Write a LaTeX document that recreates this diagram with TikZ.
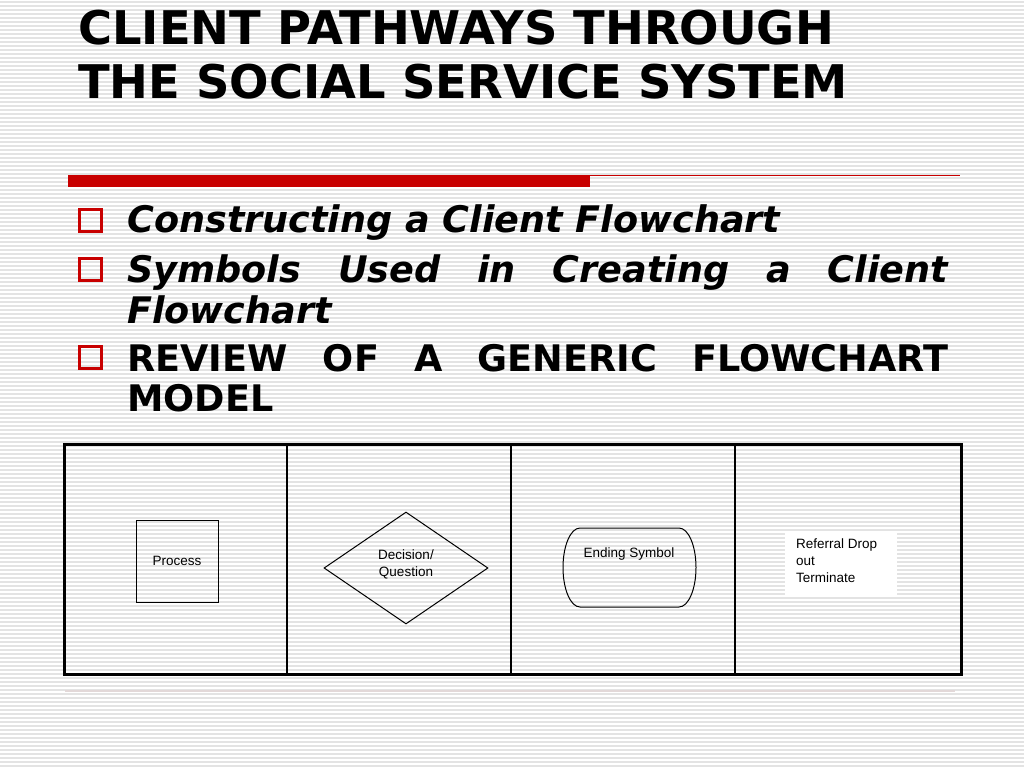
\documentclass[tikz,border=0pt]{standalone}
\usepackage{fontspec}
\setmainfont{DejaVu Sans}
\newfontfamily\arialfont{Liberation Sans}
\usetikzlibrary{shapes.geometric}
\definecolor{slidered}{HTML}{C80000}
\definecolor{stripecol}{HTML}{E3E3E3}
\definecolor{softline}{HTML}{E2D8D8}
\begin{document}
\begin{tikzpicture}[x=1pt,y=-1pt,
  titletext/.style={anchor=base west, inner sep=0pt, font=\fontsize{46.4}{50}\selectfont\bfseries},
  bullettext/.style={anchor=base west, inner sep=0pt, font=\fontsize{36.6}{40}\selectfont\bfseries},
  bulletsq/.style={draw=slidered, line width=3pt, minimum size=22pt, inner sep=0pt},
  shapeline/.style={draw=black, line width=1pt},
  smalltext/.style={font=\arialfont\fontsize{13.5}{17}\selectfont, inner sep=0pt},
]
\useasboundingbox (0,0) rectangle (1024,768);
\fill[white] (0,0) rectangle (1024,768);
\foreach \k in {0,...,191} \draw[stripecol, line width=1.3pt] (0,{4*\k+2}) -- (1024,{4*\k+2});

% title
\node[titletext] (t1) at (78,45) {CLIENT PATHWAYS THROUGH};
\node[titletext] (t2) at (78,98) {THE SOCIAL SERVICE SYSTEM};

% red rule
\fill[slidered] (68,175) rectangle (590,187);
\draw[slidered, line width=1.5pt] (590,175.5) -- (960,175.5);

% bullets
\node[bulletsq] (s1) at (90,220) {};
\node[bulletsq] (s2) at (90,269) {};
\node[bulletsq] (s3) at (90,357) {};
\node[bullettext] (b1) at (127,232) {\itshape Constructing a Client Flowchart};
\node[bullettext] (b2a) at (127,282) {\itshape\makebox[821pt][s]{Symbols Used in Creating a Client}};
\node[bullettext] (b2b) at (127,323) {\itshape Flowchart};
\node[bullettext] (b3a) at (127,371) {\makebox[821pt][s]{REVIEW OF A GENERIC FLOWCHART}};
\node[bullettext] (b3b) at (127,411) {MODEL};

% table
\node[draw=black, line width=3pt, minimum width=897pt, minimum height=230pt, anchor=north west, inner sep=0pt] (tbl) at (63,443) {};
\foreach \x in {287,511,735} \draw[black, line width=1.6pt] (\x,443) -- (\x,673);

% process
\node[shapeline, minimum size=82pt, smalltext] (proc) at (177,561) {Process};

% decision
\node[diamond, shapeline, minimum width=164pt, minimum height=112pt, inner sep=0pt] (dec) at (406,568) {};
\node[smalltext, align=center] (declbl) at (406,564.5) {Decision/\\Question};

% ending symbol
\node[minimum width=133pt, minimum height=79pt, inner sep=0pt] (ends) at (629.5,567.5) {};
\draw[shapeline] (580,528) -- (679,528)
  .. controls (688.4,528) and (696,545.7) .. (696,567.5)
  .. controls (696,589.3) and (688.4,607) .. (679,607)
  -- (580,607)
  .. controls (570.6,607) and (563,589.3) .. (563,567.5)
  .. controls (563,545.7) and (570.6,528) .. cycle;
\node[smalltext] (endlbl) at (629,554.5) {Ending Symbol};

% referral
\node[fill=white, minimum width=112pt, minimum height=65pt, anchor=north west, inner sep=0pt] (refbox) at (785,531) {};
\node[smalltext, align=left, anchor=north west] (reflbl) at (796,539) {Referral Drop\\out\\Terminate};

% bottom rule
\draw[softline, line width=1.5pt] (65,691) -- (955,691);
\end{tikzpicture}
\end{document}
